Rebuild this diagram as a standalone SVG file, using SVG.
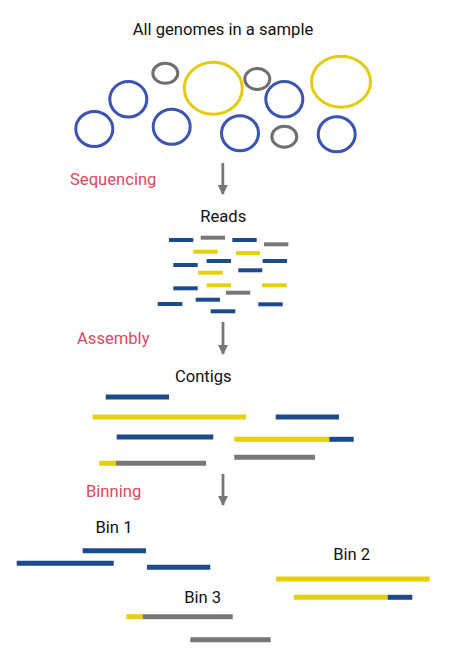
<svg xmlns="http://www.w3.org/2000/svg" width="459" height="653" viewBox="0 0 459 653">
<defs>
<style>
text{font-family:Roboto,"Liberation Sans",sans-serif;font-size:16.6px;fill:#111}
.step{fill:#d9485e}
.cb{fill:none;stroke:#3b53b3;stroke-width:3}
.cy{fill:none;stroke:#e3cb12;stroke-width:3}
.cg{fill:none;stroke:#6f6f6f;stroke-width:3}
.r{stroke-width:4;stroke-linecap:butt}
.c{stroke-width:5;stroke-linecap:butt}
.b{stroke:#1d4a8c}
.y{stroke:#e6cf0b}
.g{stroke:#777777}
.arr{stroke:#777777;stroke-width:2.8;fill:none}
</style>
<marker id="ah" viewBox="0 0 10 10" refX="9" refY="5" markerWidth="3.6" markerHeight="3.6" orient="auto" markerUnits="strokeWidth">
<path d="M0,0 L10,5 L0,10 z" fill="#777777"/>
</marker>
</defs>
<rect width="459" height="653" fill="#ffffff"/>

<g id="genomes">
<text x="223" y="35" text-anchor="middle">All genomes in a sample</text>
<ellipse class="cg" cx="165.3" cy="73.3" rx="12.5" ry="10"/>
<ellipse class="cy" cx="213.3" cy="88.3" rx="29" ry="26"/>
<ellipse class="cg" cx="257.3" cy="79" rx="12.5" ry="10.5"/>
<ellipse class="cy" cx="341" cy="81.7" rx="29.5" ry="25.5"/>
<ellipse class="cb" cx="128.3" cy="99.3" rx="18.5" ry="17.8"/>
<ellipse class="cb" cx="94.3" cy="129" rx="18.5" ry="17.5"/>
<ellipse class="cb" cx="171.7" cy="126.7" rx="18.5" ry="17.5"/>
<ellipse class="cb" cx="240" cy="133.3" rx="18.5" ry="17.5"/>
<ellipse class="cb" cx="284.3" cy="99.3" rx="18.5" ry="17.8"/>
<ellipse class="cb" cx="336.7" cy="134.3" rx="18.5" ry="17.5"/>
<ellipse class="cg" cx="284.3" cy="136.7" rx="12.5" ry="10.5"/>
</g>

<g id="sequencing">
<text class="step" x="70" y="184.5">Sequencing</text>
</g>

<g id="reads">
<text x="223.3" y="221.7" text-anchor="middle">Reads</text>
<line class="r b" x1="169" y1="240" x2="193.3" y2="240"/>
<line class="r g" x1="200.7" y1="237.7" x2="225" y2="237.7"/>
<line class="r b" x1="232.3" y1="240" x2="256.7" y2="240"/>
<line class="r g" x1="264" y1="244.3" x2="288.3" y2="244.3"/>
<line class="r y" x1="193.3" y1="251.7" x2="217.7" y2="251.7"/>
<line class="r y" x1="236" y1="253" x2="260" y2="253"/>
<line class="r b" x1="206.7" y1="261" x2="231" y2="261"/>
<line class="r b" x1="262.7" y1="261" x2="287" y2="261"/>
<line class="r b" x1="173.3" y1="265" x2="197.7" y2="265"/>
<line class="r y" x1="198.3" y1="272.7" x2="222.7" y2="272.7"/>
<line class="r b" x1="238.3" y1="270.3" x2="262.3" y2="270.3"/>
<line class="r y" x1="206.7" y1="285.3" x2="231" y2="285.3"/>
<line class="r y" x1="262" y1="285.3" x2="286.7" y2="285.3"/>
<line class="r b" x1="173.3" y1="288.3" x2="197.7" y2="288.3"/>
<line class="r g" x1="226" y1="292.7" x2="250.3" y2="292.7"/>
<line class="r b" x1="195.7" y1="299.7" x2="220" y2="299.7"/>
<line class="r b" x1="157.7" y1="304" x2="182.3" y2="304"/>
<line class="r b" x1="258.3" y1="304.3" x2="282.7" y2="304.3"/>
<line class="r b" x1="210.7" y1="311.3" x2="235.3" y2="311.3"/>
</g>

<g id="assembly">
<text class="step" x="77" y="344">Assembly</text>
</g>

<g id="contigs">
<text x="203.3" y="381.7" text-anchor="middle">Contigs</text>
<line class="c b" x1="105.7" y1="397" x2="169" y2="397"/>
<line class="c y" x1="92.7" y1="417" x2="246" y2="417"/>
<line class="c b" x1="275.7" y1="417" x2="339" y2="417"/>
<line class="c b" x1="116.7" y1="437" x2="213.3" y2="437"/>
<line class="c y" x1="234.3" y1="439.3" x2="329.3" y2="439.3"/>
<line class="c b" x1="329.3" y1="439.3" x2="353.7" y2="439.3"/>
<line class="c g" x1="234.3" y1="457.3" x2="315" y2="457.3"/>
<line class="c y" x1="99.3" y1="463.3" x2="116" y2="463.3"/>
<line class="c g" x1="116" y1="463.3" x2="206" y2="463.3"/>
</g>

<g id="binning">
<text class="step" x="86" y="497">Binning</text>
</g>

<g id="bin1">
<text x="114" y="533.3" text-anchor="middle">Bin 1</text>
<line class="c b" x1="82.7" y1="550.7" x2="146" y2="550.7"/>
<line class="c b" x1="16.7" y1="563.3" x2="113.7" y2="563.3"/>
<line class="c b" x1="147" y1="567.3" x2="210.3" y2="567.3"/>
</g>

<g id="bin2">
<text x="351.7" y="560" text-anchor="middle">Bin 2</text>
<line class="c y" x1="276.3" y1="579" x2="429.7" y2="579"/>
<line class="c y" x1="293.7" y1="597.3" x2="387.7" y2="597.3"/>
<line class="c b" x1="387.7" y1="597.3" x2="412.3" y2="597.3"/>
</g>

<g id="bin3">
<text x="202.7" y="603.3" text-anchor="middle">Bin 3</text>
<line class="c y" x1="126.3" y1="616.7" x2="142.7" y2="616.7"/>
<line class="c g" x1="142.7" y1="616.7" x2="232.7" y2="616.7"/>
<line class="c g" x1="190.3" y1="639.7" x2="270.7" y2="639.7"/>
</g>

<g id="connectors">
<line class="arr" x1="222.8" y1="163" x2="222.8" y2="194" marker-end="url(#ah)"/>
<line class="arr" x1="223" y1="322" x2="223" y2="354" marker-end="url(#ah)"/>
<line class="arr" x1="223" y1="474" x2="223" y2="505" marker-end="url(#ah)"/>
</g>
</svg>
